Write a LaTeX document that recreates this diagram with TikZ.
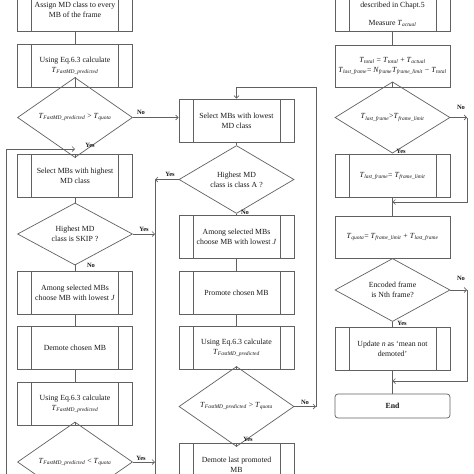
\documentclass[tikz,border=0pt]{standalone}
\usepackage{fontspec}
\setmainfont{Liberation Serif}
\usetikzlibrary{shapes.geometric,arrows.meta}
\newcommand{\Tsb}[1]{\textit{T}\textsubscript{\textit{#1}}}
\begin{document}
\begin{tikzpicture}[x=1pt,y=-1pt,
  every node/.style={font=\fontsize{7.8}{10}\selectfont, text=black!90},
  ln/.style={draw=black!62, line width=0.7pt},
  arr/.style={ln, -{Straight Barb[length=2.5pt,width=5pt]}},
  proc/.style={ln, rectangle, minimum width=115pt, minimum height=43pt, align=center, inner sep=1pt,
    path picture={\draw[black!62,line width=0.7pt]
      ([xshift=14pt]path picture bounding box.north west) -- ([xshift=14pt]path picture bounding box.south west)
      ([xshift=-14pt]path picture bounding box.north east) -- ([xshift=-14pt]path picture bounding box.south east);}},
  plainbox/.style={ln, rectangle, minimum width=115pt, minimum height=42pt, align=center, inner sep=1pt},
  dec/.style={ln, diamond, minimum width=115pt, minimum height=49pt, align=center, inner sep=0pt},
  term/.style={ln, rectangle, rounded corners=3pt, minimum width=115pt, minimum height=24pt},
  lab/.style={font=\bfseries\fontsize{6.5}{7}\selectfont, inner sep=0pt},
]
\clip (0,0) rectangle (474,474);
\fill[white] (0,0) rectangle (474,474);

% left column
\node[proc] (L1) at (75,10) {Assign MD class to every\\MB of the frame};
\node[proc] (L2) at (75,66) {Using Eq.6.3 calculate\\\Tsb{FastMD\_predicted}};
\node[dec] (L3) at (75,117.5) {\Tsb{FastMD\_predicted} > \Tsb{quota}};
\node[proc] (L4) at (75,176) {Select MBs with highest\\MD class};
\node[dec] (L5) at (75,234) {Highest MD\\class is SKIP ?};
\node[proc] (L6) at (75,292.5) {Among selected MBs\\choose MB with lowest \textit{J}};
\node[proc] (L7) at (75,347.5) {Demote chosen MB};
\node[proc] (L8) at (75,403.5) {Using Eq.6.3 calculate\\\Tsb{FastMD\_predicted}};
\node[dec] (L9) at (75,462) {\Tsb{FastMD\_predicted} < \Tsb{quota}};

% middle column
\node[proc] (M1) at (236.5,120.5) {Select MBs with lowest\\MD class};
\node[dec] (M2) at (236.5,179.5) {Highest MD\\class is class A ?};
\node[proc] (M3) at (236.5,236.5) {Among selected MBs\\choose MB with lowest \textit{J}};
\node[proc] (M4) at (236.5,293) {Promote chosen MB};
\node[proc] (M5) at (236.5,347.5) {Using Eq.6.3 calculate\\\Tsb{FastMD\_predicted}};
\node[dec] (M6) at (236.5,406.5) {\Tsb{FastMD\_predicted} > \Tsb{quota}};
\node[proc] (M7) at (236.5,465) {Demote last promoted\\MB};

% right column
\node[proc] (R1) at (392.5,10) {};
\node (R1a) at (392.5,6) {described in Chapt.5};
\node (R1b) at (392.5,23) {Measure \Tsb{actual}};
\node[plainbox] (R2) at (392.5,66) {\Tsb{total} = \Tsb{total} + \Tsb{actual}\\\Tsb{last\_frame}= \textit{N}\textsubscript{\textit{frame}}\Tsb{frame\_limit} − \Tsb{total}};
\node[dec] (R3) at (392.5,117.5) {\Tsb{last\_frame}>\Tsb{frame\_limit}};
\node[proc] (R4) at (392.5,176) {\Tsb{last\_frame}= \Tsb{frame\_limit}};
\node[plainbox] (R5) at (392.5,237) {\Tsb{quota}= \Tsb{frame\_limit} + \Tsb{last\_frame}};
\node[dec] (R6) at (392.5,290) {Encoded frame\\is Nth frame?};
\node[proc] (R7) at (392.5,348.5) {Update \textit{n} as ‘mean not\\demoted’};
\node[term] (R8) at (392.5,406) {\textbf{End}};

% helper coordinates
\coordinate (lb) at (6,480);
\coordinate (lt) at (6,149);
\coordinate (vb) at (155,480);
\coordinate (vt) at (155,179.5);
\coordinate (mr) at (316,406.5);
\coordinate (mt) at (316,87);
\coordinate (ra) at (467,117.5);
\coordinate (rab) at (467,202);
\coordinate (rb) at (467,290);
\coordinate (rbb) at (467,381);

% vertical connectors
\draw[ln] (L1) -- (L2);
\draw[ln] (L2) -- (L3);
\draw[ln] (L3) -- (L4);
\draw[ln] (L4) -- (L5);
\draw[ln] (L5) -- (L6);
\draw[ln] (L6) -- (L7);
\draw[ln] (L7) -- (L8);
\draw[ln] (L8) -- (L9);
\draw[ln] (M1) -- (M2);
\draw[ln] (M2) -- (M3);
\draw[ln] (M3) -- (M4);
\draw[ln] (M4) -- (M5);
\draw[ln] (M5) -- (M6);
\draw[ln] (M6) -- (M7);
\draw[ln] (R1) -- (R2);
\draw[ln] (R2) -- (R3);
\draw[ln] (R3) -- (R4);
\draw[ln] (R4) -- (R5);
\draw[ln] (R5) -- (R6);
\draw[ln] (R6) -- (R7);
\draw[ln] (R7) -- (R8);

% loops and branches
\draw[arr] (lb) -- (lt) -- (lt -| L3.south);
\draw[arr] (L3.east) -- (L3.east -| M1.west);
\draw[arr] (L5.east) -- (L5.east -| vb);
\draw[arr] (L9.east) -- (L9.east -| vb);
\draw[arr] (M2.west) -- (vt);
\draw[ln] (vt) -- (vb);
\draw[arr] (M6.east) -- (mr);
\draw[arr] (mr) -- (mt) -| (M1.north);
\draw[arr] (R3.east) -- (ra);
\draw[arr] (ra) -- (rab) -- (rab -| R4.south);
\draw[arr] (R6.east) -- (rb);
\draw[arr] (rb) -- (rbb) -- (rbb -| R7.south);

% labels
\node[lab] (yL3) at (90,145) {Yes};
\node[lab] (nL3) at (141,112) {No};
\node[lab] (yL5) at (144,229) {Yes};
\node[lab] (nL5) at (91,265) {No};
\node[lab] (yL9) at (141,458) {Yes};
\node[lab] (yM2) at (170,174) {Yes};
\node[lab] (nM2) at (245,212) {No};
\node[lab] (nM6) at (305,402) {No};
\node[lab] (yM6) at (248,439) {Yes};
\node[lab] (nR3) at (461,107) {No};
\node[lab] (yR3) at (401,151) {Yes};
\node[lab] (nR6) at (461,278) {No};
\node[lab] (yR6) at (402,323) {Yes};
\end{tikzpicture}
\end{document}
